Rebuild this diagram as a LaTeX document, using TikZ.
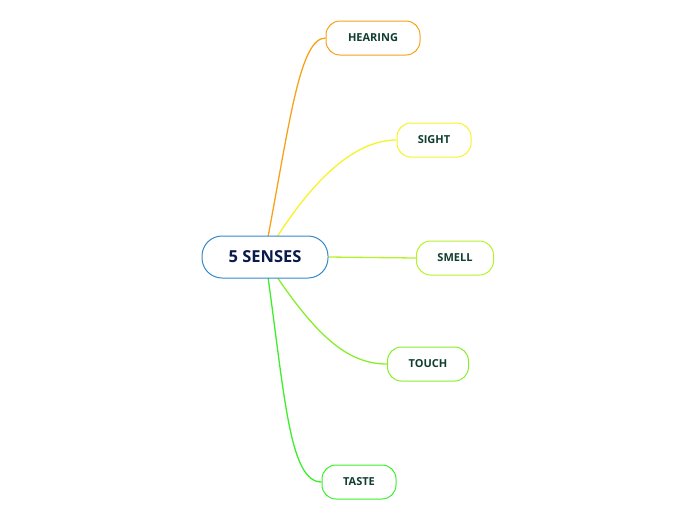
\documentclass[tikz,border=0pt]{standalone}
\usepackage{fontspec}
\setmainfont{Open Sans}
\begin{document}
\begin{tikzpicture}[x=1pt,y=-1pt,
  leaf/.style={draw, line width=1pt, rounded corners=14pt, fill=white, font=\bfseries\fontsize{11}{13}\selectfont, text={rgb,255:red,16;green,62;blue,48}, minimum height=34pt, inner xsep=0pt},
  conn/.style={line width=1.3pt}]
\useasboundingbox (0,0) rectangle (696,520);
\definecolor{cHear}{HTML}{F7A21B}
\definecolor{cSight}{HTML}{F8F22A}
\definecolor{cSmell}{HTML}{B5F22A}
\definecolor{cTouch}{HTML}{88EE2A}
\definecolor{cTaste}{HTML}{3DEE2A}
\node[draw=cHear, leaf, minimum width=94pt] (hear) at (373,38) {HEARING};
\node[draw=cSight, leaf, minimum width=74pt] (sight) at (434,140) {SIGHT};
\node[draw=cSmell, leaf, minimum width=77pt] (smell) at (455,258) {SMELL};
\node[draw=cTouch, leaf, minimum width=81pt] (touch) at (428,364) {TOUCH};
\node[draw=cTaste, leaf, minimum width=74pt] (taste) at (359,482) {TASTE};
\coordinate (c1) at (268,237);
\coordinate (c2) at (277,237);
\coordinate (c3) at (277,277);
\coordinate (c4) at (268,277);
\draw[conn, cHear] (c1) .. controls (290,120) and (300,38) .. (hear.west);
\draw[conn, cSight] (c2) .. controls (320,170) and (360,140) .. (sight.west);
\draw[conn, cTouch] (c3) .. controls (320,340) and (350,364) .. (touch.west);
\draw[conn, cTaste] (c4) .. controls (285,400) and (290,482) .. (taste.west);
\node[draw={rgb,255:red,52;green,136;blue,204}, line width=1pt, rounded corners=20pt, fill=white, minimum width=126pt, minimum height=42pt, font=\bfseries\fontsize{16.5}{18}\selectfont, text={rgb,255:red,10;green,26;blue,74}] (c) at (265,257) {5 SENSES};
\draw[conn, cSmell] (c.east) -- (smell.west);
\end{tikzpicture}
\end{document}
